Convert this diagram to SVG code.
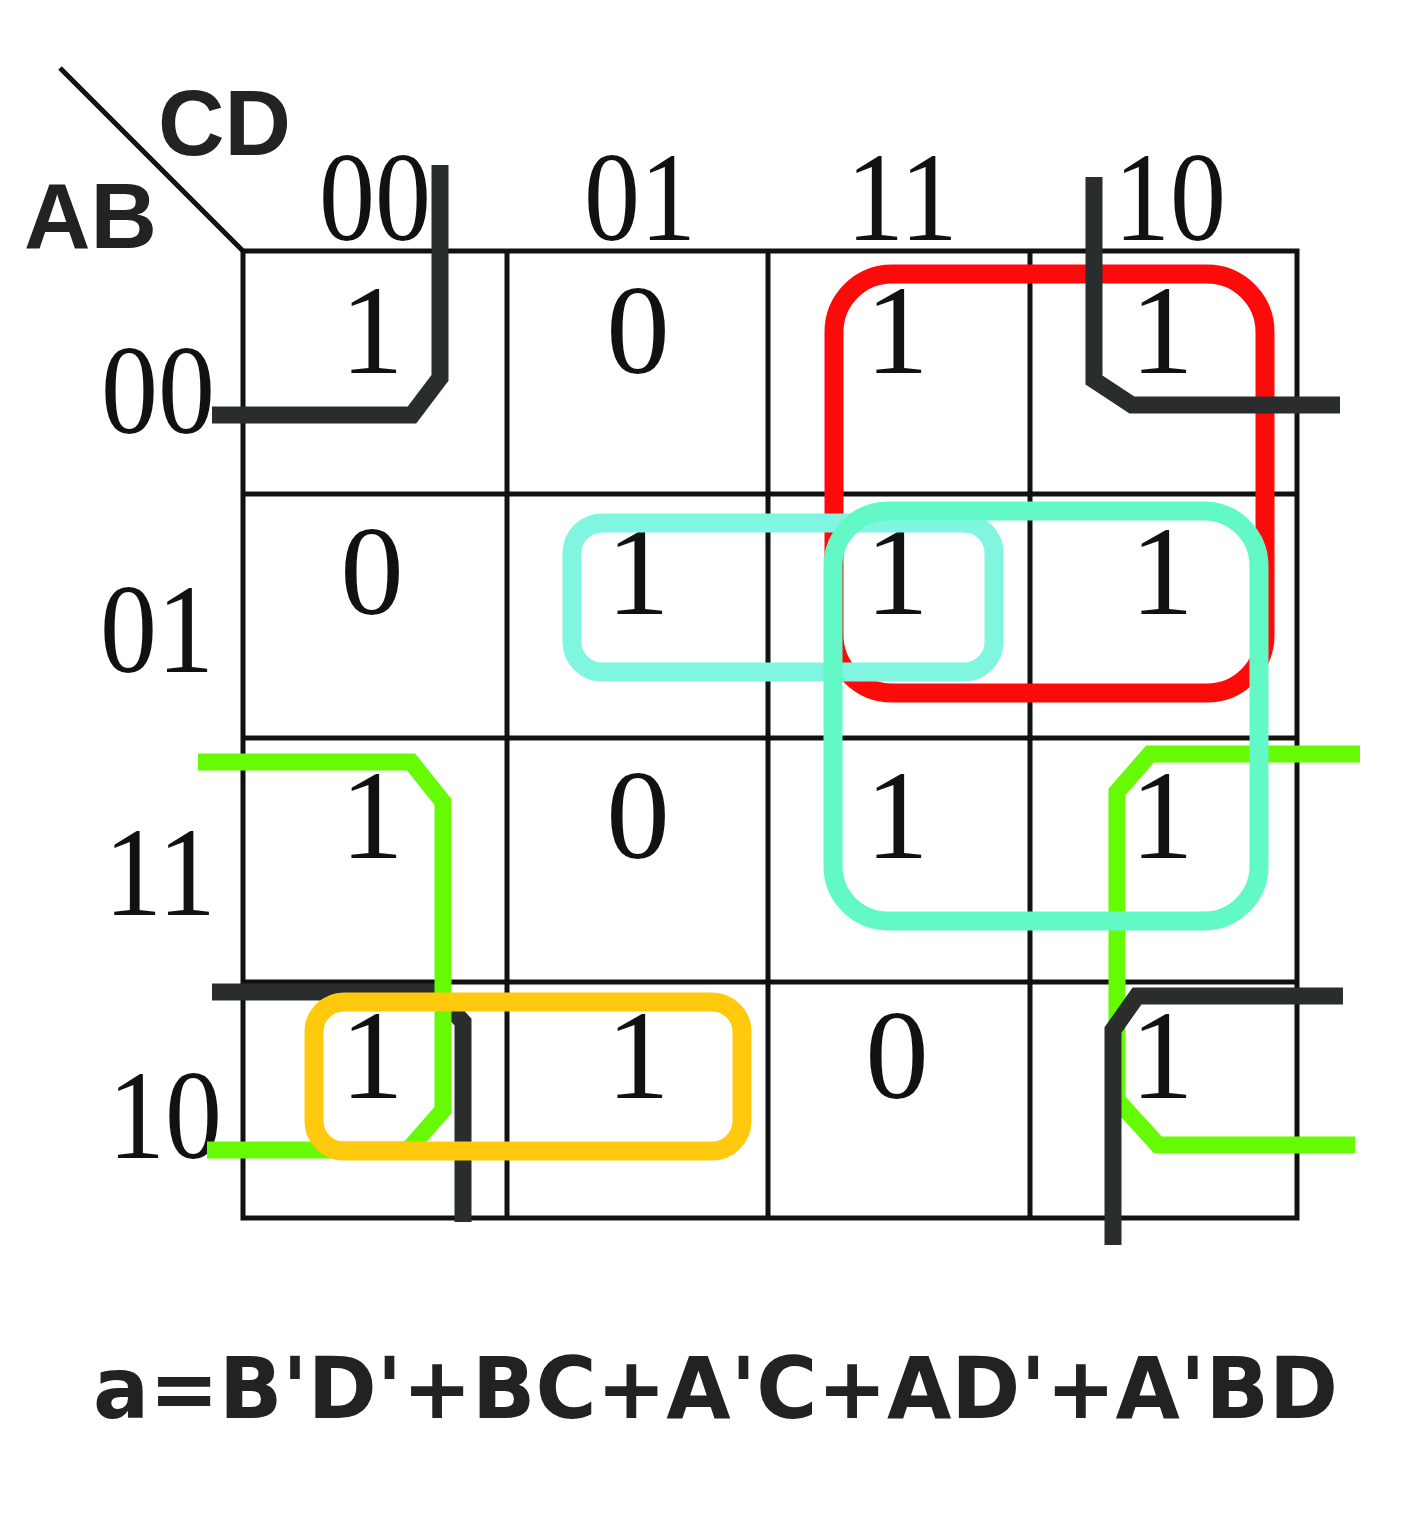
<svg xmlns="http://www.w3.org/2000/svg" width="1412" height="1536" viewBox="0 0 1412 1536">
<style>
.grid{stroke:#111;stroke-width:5;fill:none}
.dig{font-family:"Liberation Serif","Times New Roman",serif;font-size:127px;fill:#111;text-anchor:middle}
.var{font-family:"Liberation Sans",Arial,sans-serif;font-weight:bold;font-size:92px;fill:#222}
.loop{fill:none;stroke-linejoin:miter}
.dark{stroke:#2a2d2e;stroke-width:17}
.green{stroke:#66fb05;stroke-width:17}
.eq{font-family:"DejaVu Sans","Liberation Sans",sans-serif;font-weight:bold;font-size:86px;fill:#222}
</style>
<rect width="1412" height="1536" fill="#fff"/>
<g id="grid">
<line class="grid" x1="60" y1="68" x2="243" y2="251"/>
<rect class="grid" x="243" y="251" width="1054" height="967"/>
<line class="grid" x1="507" y1="251" x2="507" y2="1218"/>
<line class="grid" x1="768" y1="251" x2="768" y2="1218"/>
<line class="grid" x1="1030" y1="251" x2="1030" y2="1218"/>
<line class="grid" x1="243" y1="494" x2="1297" y2="494"/>
<line class="grid" x1="243" y1="738" x2="1297" y2="738"/>
<line class="grid" x1="243" y1="982" x2="1297" y2="982"/>
</g>
<g id="labels">
<text class="var" x="158" y="155">CD</text>
<text class="var" x="24" y="248">AB</text>
<text class="dig" x="375" y="240" textLength="112" lengthAdjust="spacingAndGlyphs">00</text>
<text class="dig" x="640" y="240" textLength="112" lengthAdjust="spacingAndGlyphs">01</text>
<text class="dig" x="902" y="240" textLength="112" lengthAdjust="spacingAndGlyphs">11</text>
<text class="dig" x="1170" y="240" textLength="112" lengthAdjust="spacingAndGlyphs">10</text>
<text class="dig" x="158" y="433" textLength="114" lengthAdjust="spacingAndGlyphs">00</text>
<text class="dig" x="157" y="672" textLength="114" lengthAdjust="spacingAndGlyphs">01</text>
<text class="dig" x="160" y="915" textLength="112" lengthAdjust="spacingAndGlyphs">11</text>
<text class="dig" x="165" y="1158" textLength="114" lengthAdjust="spacingAndGlyphs">10</text>
</g>
<g id="cells">
<text class="dig" x="372" y="373">1</text>
<text class="dig" x="638" y="373">0</text>
<text class="dig" x="897" y="373">1</text>
<text class="dig" x="1162" y="373">1</text>
<text class="dig" x="372" y="614">0</text>
<text class="dig" x="638" y="614">1</text>
<text class="dig" x="897" y="614">1</text>
<text class="dig" x="1162" y="614">1</text>
<text class="dig" x="372" y="858">1</text>
<text class="dig" x="638" y="858">0</text>
<text class="dig" x="897" y="858">1</text>
<text class="dig" x="1162" y="858">1</text>
<text class="dig" x="372" y="1098">1</text>
<text class="dig" x="638" y="1098">1</text>
<text class="dig" x="897" y="1098">0</text>
<text class="dig" x="1162" y="1098">1</text>
</g>
<g id="connectors">
<rect id="red-group" class="loop" x="834" y="274" width="431" height="419" rx="58" stroke="#ff0a0a" stroke-width="19"/>
<path id="dark-bl" class="loop dark" d="M212,992 L435,992 L463,1022 L463,1222"/>
<path id="green-left" class="loop green" d="M198,762 L411,762 L443,802 L443,1110 L408,1150 L207,1150"/>
<rect id="yellow-group" class="loop" x="314" y="1002" width="428" height="149" rx="30" stroke="#ffc90e" stroke-width="19"/>
<path id="green-right" class="loop green" d="M1360,754 L1150,754 L1117,792 L1117,1100 L1158,1145 L1355,1145"/>
<rect id="cyan-small" class="loop" x="572" y="523" width="422" height="149" rx="30" stroke="#80f6e0" stroke-width="19"/>
<rect id="cyan-big" class="loop" x="833" y="511" width="426" height="410" rx="55" stroke="#62f9c6" stroke-width="19"/>
<path id="dark-tl" class="loop dark" d="M440,165 L440,378 L412,415 L212,415"/>
<path id="dark-tr" class="loop dark" d="M1094,177 L1094,380 L1132,405 L1340,405"/>
<path id="dark-br" class="loop dark" d="M1343,996 L1137,996 L1113,1030 L1113,1245"/>
</g>
<text class="eq" x="93" y="1418" textLength="1245" lengthAdjust="spacingAndGlyphs">a=B'D'+BC+A'C+AD'+A'BD</text>
</svg>
